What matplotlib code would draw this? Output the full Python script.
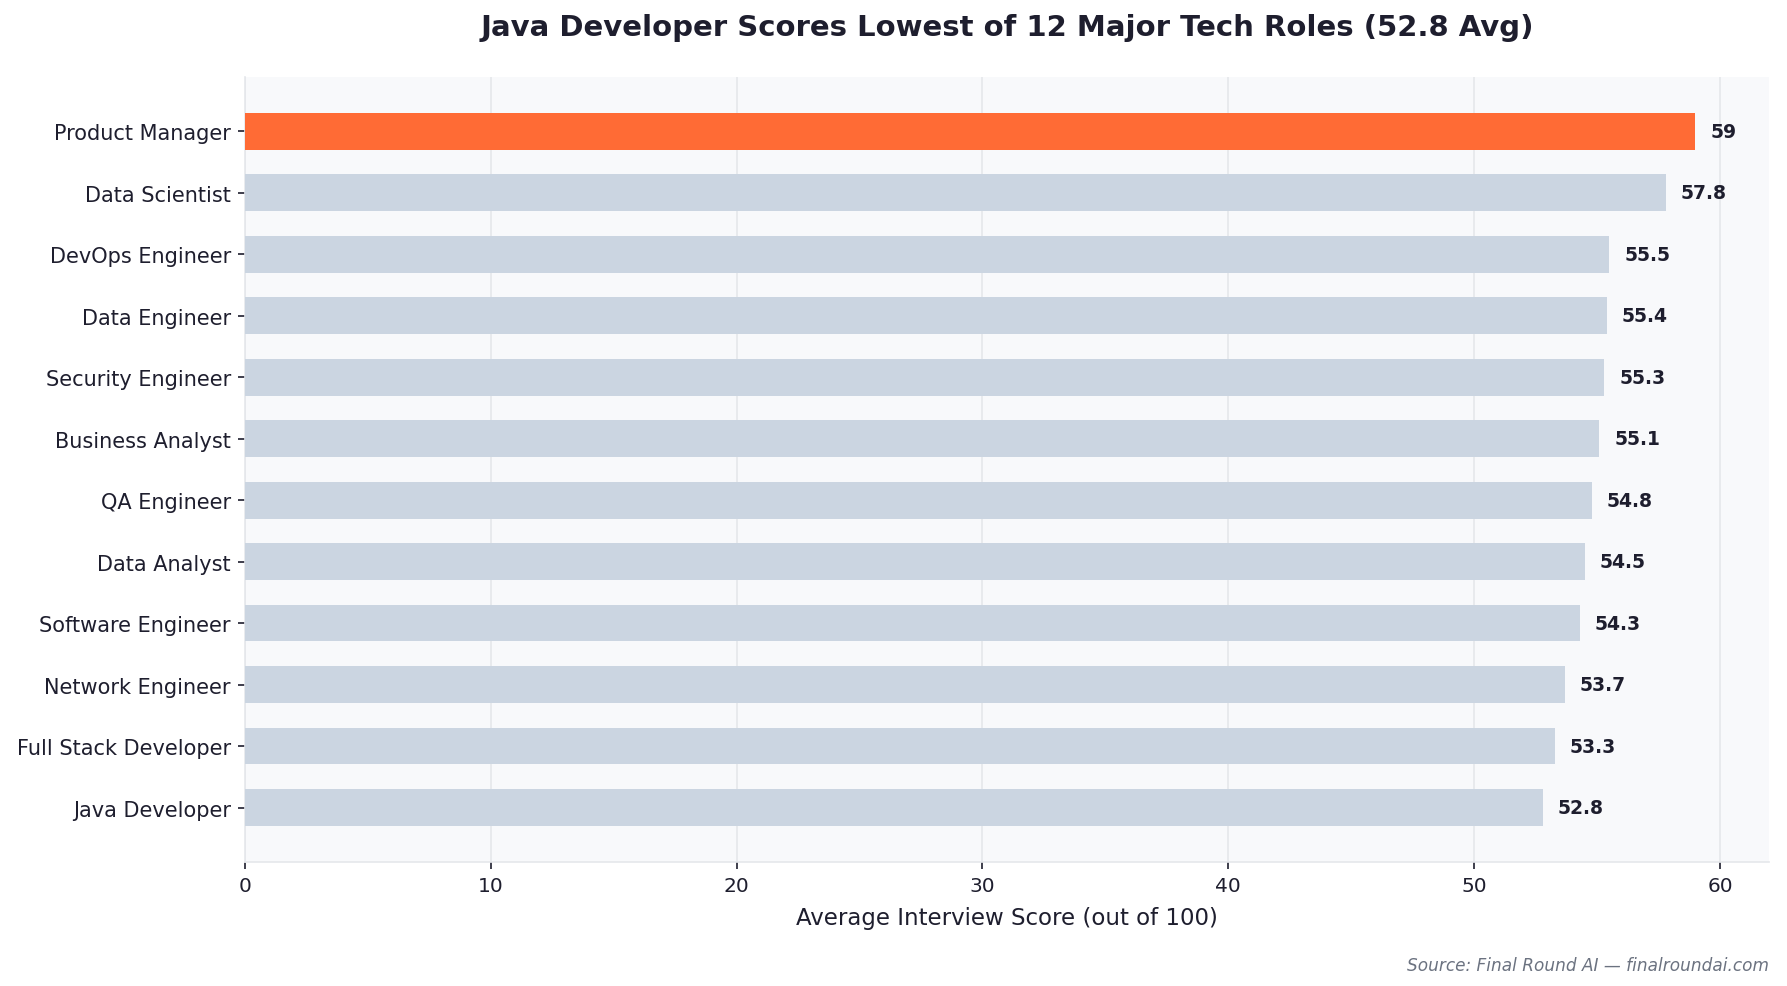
import matplotlib
matplotlib.use("Agg")
import matplotlib.pyplot as plt

roles = ["Product Manager", "Data Scientist", "DevOps Engineer", "Data Engineer",
         "Security Engineer", "Business Analyst", "QA Engineer", "Data Analyst",
         "Software Engineer", "Network Engineer", "Full Stack Developer", "Java Developer"]
scores = [59, 57.8, 55.5, 55.4, 55.3, 55.1, 54.8, 54.5, 54.3, 53.7, 53.3, 52.8]
labels = ["59", "57.8", "55.5", "55.4", "55.3", "55.1", "54.8", "54.5", "54.3", "53.7", "53.3", "52.8"]

text_color = "#1e1e2e"
colors = ["#ff6b35"] + ["#cbd5e1"] * (len(roles) - 1)

fig, ax = plt.subplots(figsize=(17.87, 9.87), dpi=100)
fig.subplots_adjust(left=0.137, right=0.99, top=0.921, bottom=0.126)
ax.set_facecolor("#f8f9fb")

ypos = list(range(len(roles)))[::-1]
ax.barh(ypos, scores, height=0.6, color=colors, zorder=3)

for y, v, lab in zip(ypos, scores, labels):
    ax.text(v + 0.6, y, lab, va="center", ha="left", fontsize=13.5,
            fontweight="bold", color=text_color, zorder=4)

ax.set_yticks(ypos)
ax.set_yticklabels(roles, fontsize=15, color=text_color)
ax.set_xlim(0, 62)
ax.tick_params(axis="x", labelsize=14.5, colors=text_color, length=5, width=1.2, pad=5)
ax.tick_params(axis="y", colors=text_color, length=5, width=1.2, pad=5)
ax.set_xlabel("Average Interview Score (out of 100)", fontsize=16.5, color=text_color, labelpad=8)

ax.grid(axis="x", color="#e5e7eb", linewidth=1.2, zorder=0)
ax.set_axisbelow(True)
for s in ["top", "right"]:
    ax.spines[s].set_visible(False)
for s in ["left", "bottom"]:
    ax.spines[s].set_color("#e5e7eb")
    ax.spines[s].set_linewidth(1.2)

ax.set_title("Java Developer Scores Lowest of 12 Major Tech Roles (52.8 Avg)",
             fontsize=21, fontweight="bold", color=text_color, pad=30)

fig.text(0.99, 0.012, "Source: Final Round AI \u2014 finalroundai.com", ha="right",
         va="bottom", fontsize=12.2, style="italic", color="#6b7280")

fig.savefig("out.png", dpi=100)
